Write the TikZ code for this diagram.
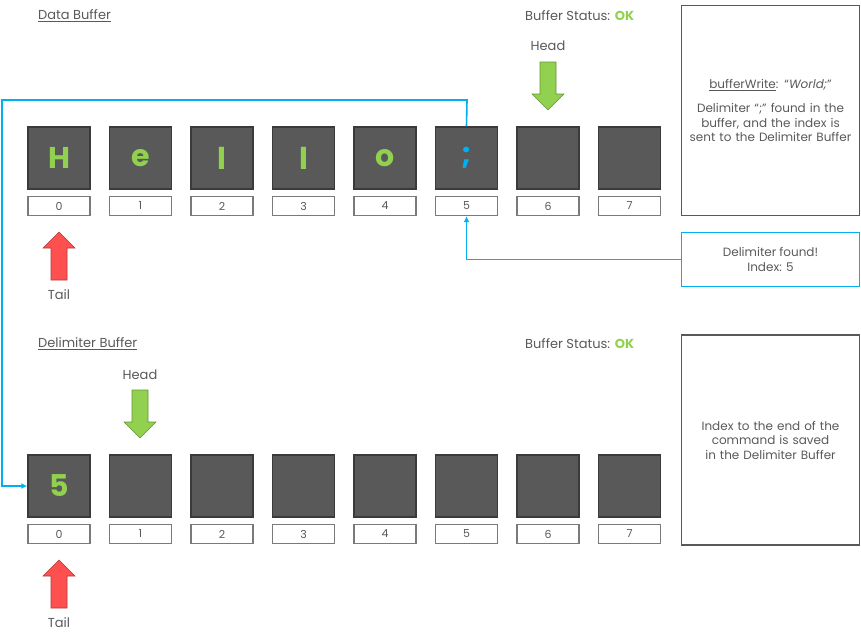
\documentclass[tikz,border=0pt]{standalone}
\usepackage{fontspec}
\setmainfont{Poppins}
\usetikzlibrary{arrows.meta}
\definecolor{cellg}{HTML}{595959}
\definecolor{cellb}{HTML}{3A3A3A}
\definecolor{gtxt}{HTML}{92D050}
\definecolor{btxt}{HTML}{00B0F0}
\definecolor{tx}{HTML}{595959}
\definecolor{redarr}{HTML}{FF5050}
\tikzset{
 cell/.style={draw=cellb,fill=cellg,line width=1.5pt,minimum width=62pt,minimum height=62pt,inner sep=0pt,font=\fontsize{30}{30}\selectfont\bfseries,text=gtxt},
 idx/.style={draw=tx!80,line width=1.3pt,fill=white,minimum width=62pt,minimum height=19pt,inner sep=0pt,font=\fontsize{11}{11}\selectfont,text=tx},
 lbl/.style={font=\fontsize{13}{13}\selectfont,text=tx,inner sep=0pt},
 info/.style={draw=tx,line width=1.5pt,align=center,font=\fontsize{12}{14.5}\selectfont,text=tx},
 blu/.style={draw=btxt,line width=1.6pt},
}
\newcommand{\dnarrow}[3]{\fill[#3,draw=#3!70!black,line width=0.6pt] (#1-8,#2) -- (#1+8,#2) -- (#1+8,#2+32) -- (#1+16,#2+32) -- (#1,#2+48) -- (#1-16,#2+32) -- (#1-8,#2+32) -- cycle;}
\newcommand{\uparrowblk}[3]{\fill[#3,draw=#3!70!black,line width=0.6pt] (#1-8,#2) -- (#1+8,#2) -- (#1+8,#2-32) -- (#1+16,#2-32) -- (#1,#2-48) -- (#1-16,#2-32) -- (#1-8,#2-32) -- cycle;}
\begin{document}
\begin{tikzpicture}[x=1pt,y=-1pt]
\useasboundingbox (0,0) rectangle (861,643);
% top
\node[lbl,anchor=west] (t1) at (38,16) {\underline{Data Buffer}};
\node[lbl,anchor=west] (s1) at (525,16) {Buffer Status: \textcolor{gtxt}{\textbf{OK}}};
\node[lbl] (h1) at (548,46) {Head};
\dnarrow{548}{62}{gtxt}
\foreach \i/\c in {0/H,1/e,2/l,3/l,4/o,5/{\textcolor{btxt}{;}},6/{},7/{}} {
  \node[cell] (a\i) at (59+81.5*\i,158) {\c};
  \node[idx] (ai\i) at (59+81.5*\i,206) {\i};
}
\uparrowblk{59}{280}{redarr}
\node[lbl] (tl1) at (59,295) {Tail};
\node[info,minimum width=178pt,minimum height=210pt,text width=170pt] (b1) at (770.5,110.5) {\underline{bufferWrite}: “\textit{World;}”\\[10pt] Delimiter “;” found in the buffer, and the index is sent to the Delimiter Buffer};
\node[info,draw=btxt,minimum width=178pt,minimum height=54pt] (df) at (770.5,259.5) {Delimiter found!\\Index: 5};
% bottom
\node[lbl,anchor=west] (t2) at (38,344) {\underline{Delimiter Buffer}};
\node[lbl,anchor=west] (s2) at (525,344) {Buffer Status: \textcolor{gtxt}{\textbf{OK}}};
\node[lbl] (h2) at (140,375) {Head};
\dnarrow{140}{390}{gtxt}
\foreach \i/\c in {0/5,1/{},2/{},3/{},4/{},5/{},6/{},7/{}} {
  \node[cell] (b\i) at (59+81.5*\i,486) {\c};
  \node[idx] (bi\i) at (59+81.5*\i,534) {\i};
}
\uparrowblk{59}{608}{redarr}
\node[lbl] (tl2) at (59,623) {Tail};
\node[info,minimum width=178pt,minimum height=210pt,text width=170pt] (b2) at (770.5,440) {Index to the end of the command is saved in the Delimiter Buffer};
% connectors
\draw[blu,-{Latex[length=6pt,width=6pt]}] (a5.north) -- (467,100) -- (2,100) |- (b0.west);
\draw[blu,-{Latex[length=6pt,width=6pt]}] (df.west) -| (ai5.south);
\end{tikzpicture}
\end{document}
